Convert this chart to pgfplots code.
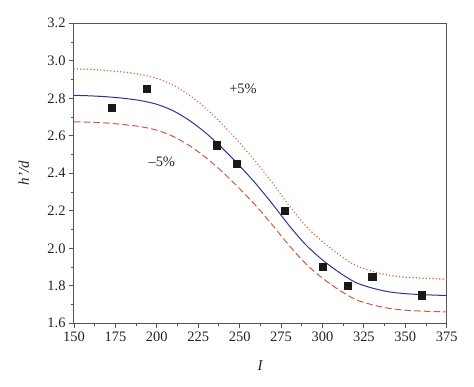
\documentclass[border=0pt]{standalone}
\usepackage{fontspec}
\setmainfont{Liberation Serif}
\usepackage{pgfplots}
\pgfplotsset{compat=1.18}
\definecolor{fitblue}{RGB}{50,50,145}
\definecolor{dotor}{RGB}{210,105,60}
\definecolor{dashor}{RGB}{205,90,60}
\definecolor{axgray}{RGB}{85,85,85}
\definecolor{txtgray}{RGB}{35,35,35}
\begin{document}
\begin{tikzpicture}
\begin{axis}[
  at={(0,0)}, anchor=south west,
  scale only axis=true,
  width=372.7bp, height=300bp,
  xmin=150, xmax=375, ymin=1.6, ymax=3.2,
  xtick={150,175,...,375},
  ytick={1.6,1.8,...,3.2},
  minor tick num=1,
  xtick pos=left, ytick pos=left,
  tick align=outside,
  major tick length=5bp, minor tick length=3bp,
  axis line style={axgray, line width=1bp},
  every tick/.style={axgray, line width=0.9bp},
  tick label style={font=\fontsize{14.5}{16}\selectfont, text=txtgray},
  /pgf/number format/assume math mode=true,
  yticklabel style={/pgf/number format/fixed, /pgf/number format/fixed zerofill, /pgf/number format/precision=1},
  xticklabel style={/pgf/number format/fixed},
  scaled ticks=false,
  xlabel={\textit{I}},
  ylabel={\textit{h'/d}},
  label style={font=\fontsize{15}{17}\selectfont, text=txtgray},
  xlabel style={at={(axis description cs:0.5,-0.14)}, anchor=center},
  ylabel style={at={(axis description cs:-0.135,0.5)}, anchor=center},
  clip=true,
]
% fitted curve
\addplot[fitblue, line width=1bp, smooth] coordinates {
(150,2.816)(160,2.813)(170,2.808)(180,2.800)(190,2.788)(200,2.768)(210,2.733)
(220,2.680)(230,2.612)(240,2.530)(250,2.440)(260,2.342)(270,2.234)(280,2.120)
(290,2.018)(300,1.938)(310,1.872)(320,1.818)(330,1.788)(340,1.768)(350,1.758)
(360,1.753)(375,1.748)};
% +5%
\addplot[dotor, line width=1.6bp, line cap=round, smooth, dash pattern=on 0.05bp off 3.3bp] coordinates {
(150,2.957)(160,2.954)(170,2.948)(180,2.940)(190,2.927)(200,2.906)(210,2.870)
(220,2.814)(230,2.743)(240,2.657)(250,2.562)(260,2.459)(270,2.346)(280,2.226)
(290,2.119)(300,2.035)(310,1.966)(320,1.909)(330,1.877)(340,1.856)(350,1.846)
(360,1.841)(375,1.835)};
% -5%
\addplot[dashor, line width=1bp, smooth, dash pattern=on 6.5bp off 3.2bp] coordinates {
(150,2.675)(160,2.672)(170,2.668)(180,2.660)(190,2.649)(200,2.630)(210,2.596)
(220,2.546)(230,2.481)(240,2.404)(250,2.318)(260,2.225)(270,2.122)(280,2.014)
(290,1.917)(300,1.841)(310,1.778)(320,1.727)(330,1.699)(340,1.680)(350,1.670)
(360,1.665)(375,1.661)};
% data
\addplot[only marks, mark=square*, mark size=3.6bp, mark options={fill=black!90, draw=black!90}] coordinates {
(173,2.75)(194,2.85)(236,2.55)(248,2.45)(277,2.20)(300,1.90)(315,1.80)(330,1.85)(360,1.75)};
\node[font=\fontsize{14.5}{16}\selectfont, text=txtgray] at (axis cs:252,2.852) {+5\%};
\node[font=\fontsize{14.5}{16}\selectfont, text=txtgray] at (axis cs:203,2.46) {\textendash5\%};
\end{axis}
\pgfresetboundingbox
\path[use as bounding box] (-74bp,-63.7bp) rectangle (400bp,323.3bp);
\end{tikzpicture}
\end{document}
